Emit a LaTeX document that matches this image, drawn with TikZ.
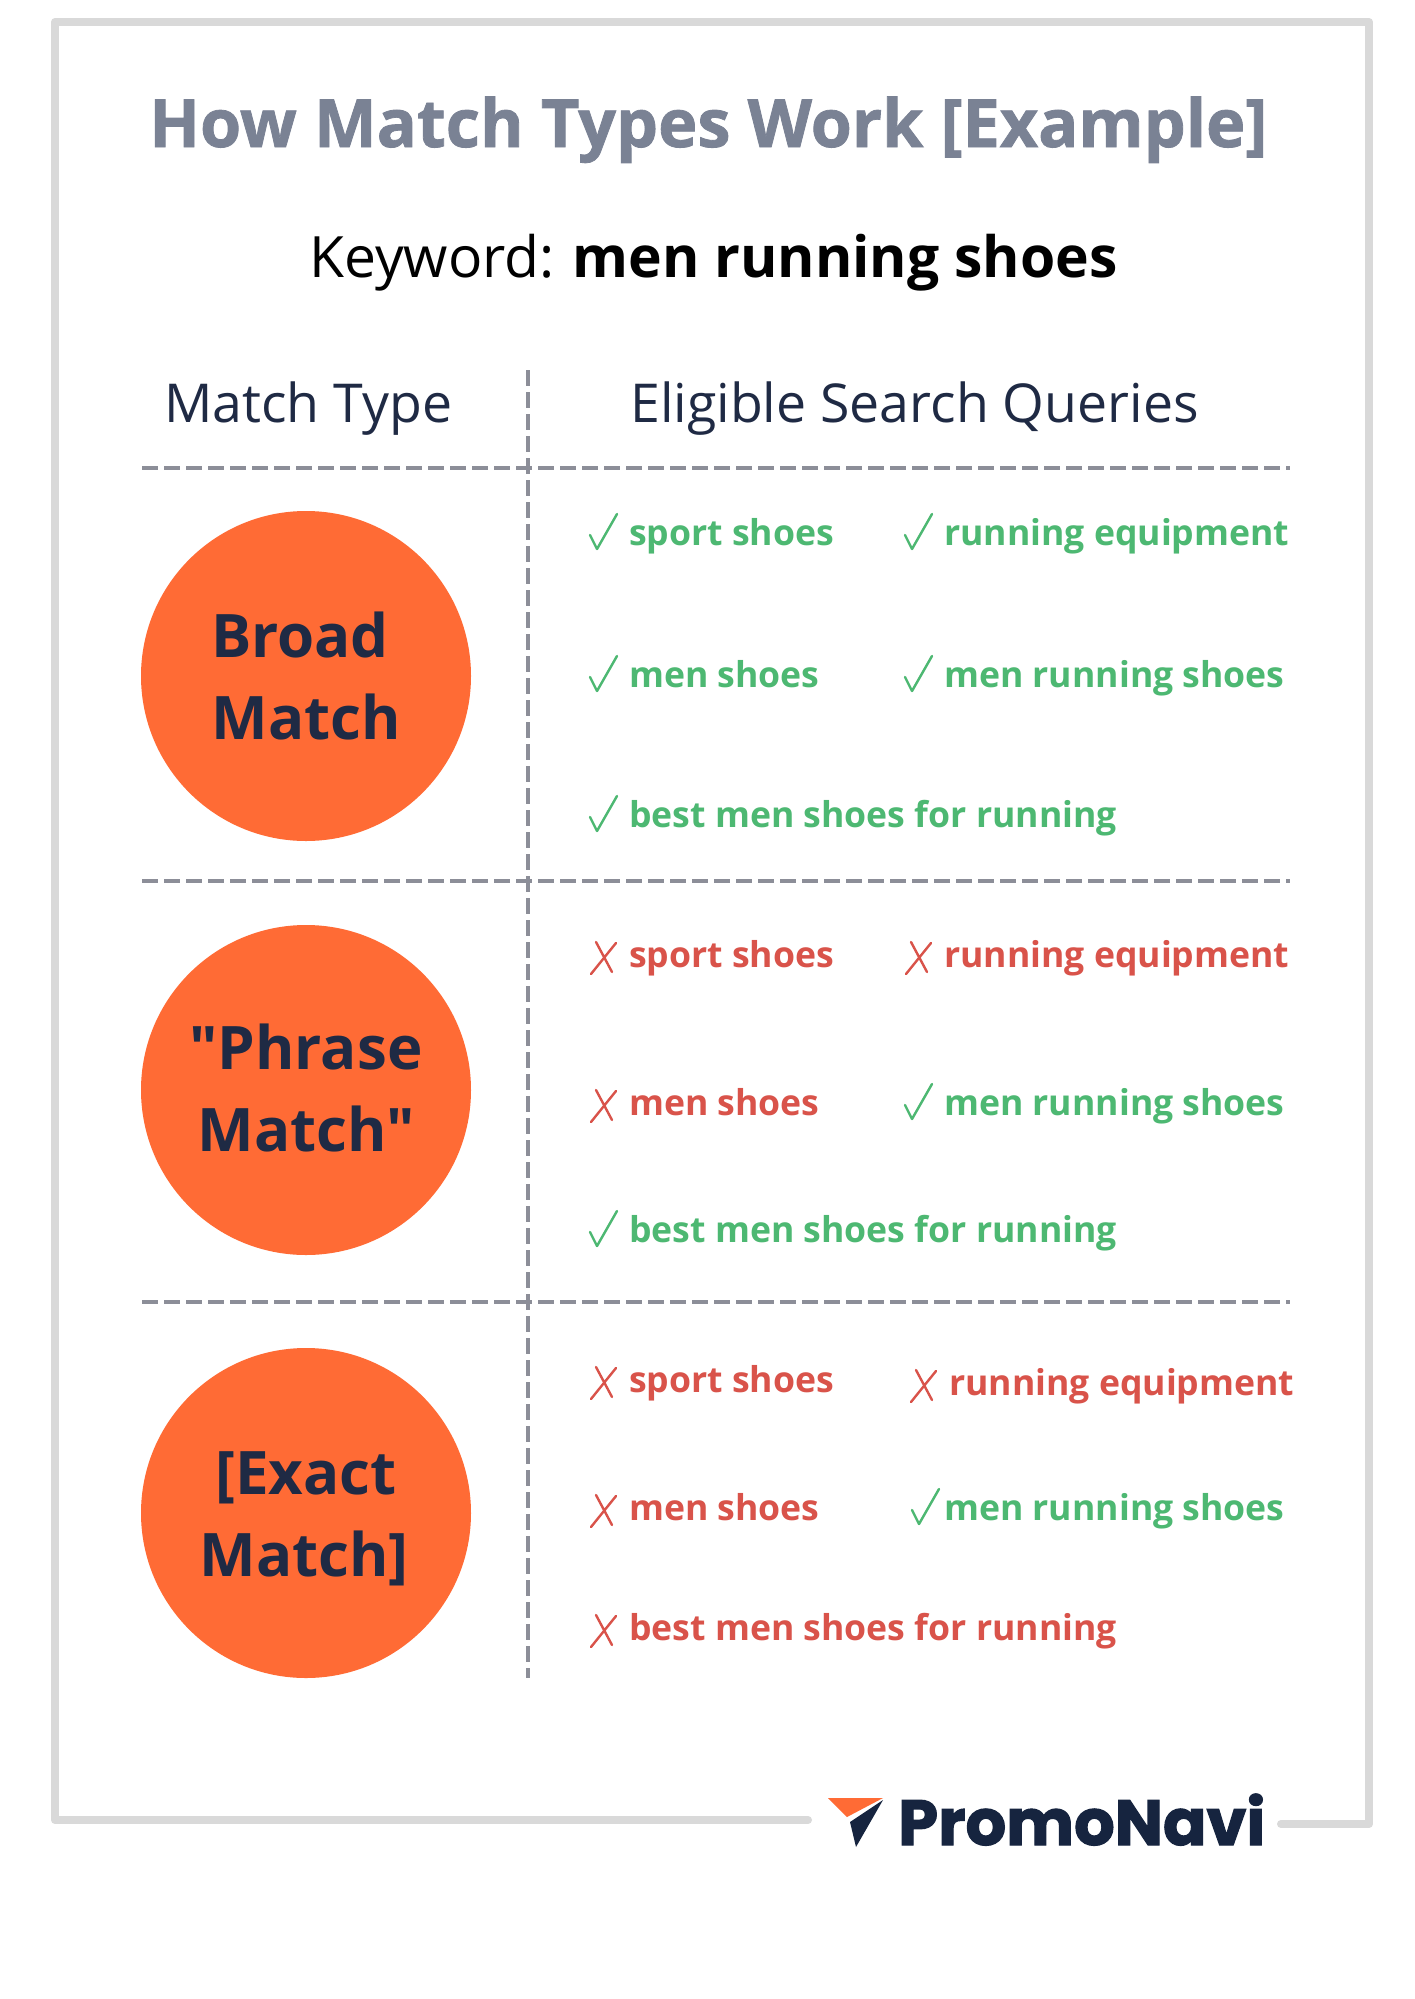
\documentclass[tikz,border=0pt]{standalone}
\usepackage{fontspec}
\setmainfont{Open Sans}[Ligatures=TeXOff]
\newfontfamily\heavyfont{Open Sans}[Ligatures=TeXOff,BoldFeatures={FakeBold=1.2}]
\newfontfamily\logofont{Poppins}[BoldFeatures={FakeBold=1.8}]
\definecolor{framegray}{HTML}{D9D9D9}
\definecolor{titlegray}{HTML}{7A8294}
\definecolor{navy}{HTML}{1F2A44}
\definecolor{dashgray}{HTML}{8C8E98}
\definecolor{okgreen}{HTML}{4DB872}
\definecolor{nored}{HTML}{D9534A}
\definecolor{discorange}{HTML}{FF6B35}
\definecolor{logonavy}{HTML}{16243F}
\newcommand{\fsz}[1]{\fontsize{#1}{#1}\selectfont}
\tikzset{
  x=1pt,y=-1pt,
  framepath/.style={draw=framegray,line width=8pt,line cap=round,line join=round},
  divider/.style={draw=dashgray,line width=4.8pt,dash pattern=on 16pt off 6pt},
  disc/.style={circle,fill=discorange,minimum size=330pt,inner sep=0pt,text=navy,font=\fontsize{60}{82}\selectfont\bfseries,align=center},
  txt/.style={anchor=base west,inner sep=0pt},
  query/.style={txt,font=\fsz{35.6}\bfseries},
  markline/.style={line width=2.4pt,line cap=round,line join=round},
  head/.style={txt,font=\fsz{53.6},text=navy},
  pics/okmark/.style={code={\draw[markline,okgreen] (-39,-10) -- (-32,4) -- (-12,-31);}},
  pics/nomark/.style={code={\draw[markline,nored] (-33,-25) -- (-17,5) (-13,-24) -- (-38,7);}}
}
\newcommand{\yes}[4]{\node[query,text=okgreen] (#1) at (#2,#3) {#4}; \pic at (#2,#3) {okmark};}
\newcommand{\no}[4]{\node[query,text=nored] (#1) at (#2,#3) {#4}; \pic at (#2,#3) {nomark};}
\begin{document}
\begin{tikzpicture}
\useasboundingbox (0,0) rectangle (1414,1999);
\fill[white] (0,0) rectangle (1414,1999);
\draw[framepath] (808,1820) -- (55,1820) -- (55,22) -- (1369,22) -- (1369,1824) -- (1281,1824);

\node[txt,font=\heavyfont\fsz{66.5}\bfseries,text=titlegray] (title) at (149,147) {How Match Types Work [Example]};
\node[txt,font=\fsz{57}] (kw) at (309,277) {Keyword:\kern-2pt{} \textbf{men running shoes}};
\node[head] (h1) at (164,422) {Match Type};
\node[head] (h2) at (630,422) {Eligible Search Queries};

\draw[divider] (142,468) -- (1290,468);
\draw[divider] (142,881) -- (1290,881);
\draw[divider] (142,1302) -- (1290,1302);
\draw[divider] (528,370) -- (528,1678);

\node[disc] (broad) at (306,676) {Broad\kern12pt\\Match};
\node[disc] (phrase) at (306,1090) {\raisebox{4pt}{"Phrase}\\\raisebox{4pt}{Match"}};
\node[disc] (exact) at (306,1513) {\rule{0pt}{54pt}[Exact\\Match]\kern4pt};

\yes{a1}{629}{545}{sport shoes}
\yes{a2}{944}{545}{running equipment}
\yes{a3}{629}{687}{men shoes}
\yes{a4}{944}{687}{men running shoes}
\yes{a5}{629}{827}{best men shoes for running}

\no{b1}{629}{967}{sport shoes}
\no{b2}{944}{967}{running equipment}
\no{b3}{629}{1115}{men shoes}
\yes{b4}{944}{1115}{men running shoes}
\yes{b5}{629}{1242}{best men shoes for running}

\no{c1}{629}{1392}{sport shoes}
\no{c2}{949}{1395}{running equipment}
\no{c3}{629}{1520}{men shoes}
\node[query,text=okgreen] (c4) at (944,1520) {men running shoes};
\pic at (951,1520) {okmark};
\no{c5}{629}{1640}{best men shoes for running}

\fill[discorange] (828,1798) -- (883,1798) -- (847,1817) -- cycle;
\fill[logonavy] (883,1800) -- (856,1847) -- (850,1822) -- cycle;
\node[txt,font=\logofont\fsz{64}\bfseries,text=logonavy] (logo) at (898,1845) {PromoNavi};
\end{tikzpicture}
\end{document}
